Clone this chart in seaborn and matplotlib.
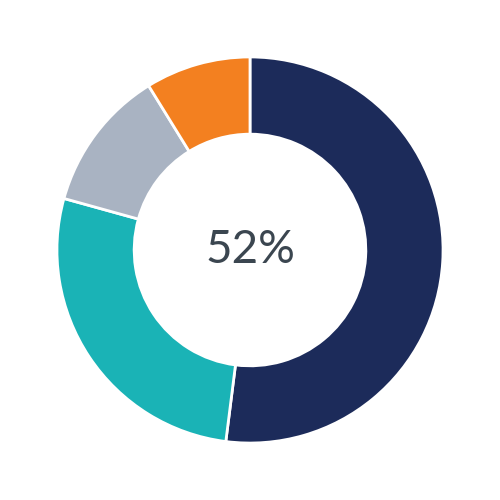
#!/usr/bin/env python3
# coding: utf-8

import seaborn as sns
import matplotlib
from matplotlib import pyplot as plt

# data
labels = ["Navy", "Teal", "Gray", "Orange"]
shares = [52.0, 27.3, 11.9, 8.8]
colors = ["#1c2b5a", "#1ab3b6", "#a9b3c2", "#f38020"]
center_text = "52%"

sns.set_style("white")
sns.set_palette(sns.color_palette(colors))
matplotlib.rcParams['font.family'] = ['Lato', 'DejaVu Sans']

fig = plt.figure(figsize=[5.0, 5.0], dpi=100)
ax = fig.add_axes([0, 0, 1, 1])
ax.pie(shares, labels=None, colors=sns.color_palette(colors),
       startangle=90, counterclock=False, radius=1.0,
       wedgeprops=dict(width=0.4, edgecolor="white", linewidth=2))
ax.text(0, 0.0, center_text, ha="center", va="center",
        fontsize=33, color="#3b4650")
ax.set_xlim(-1.295, 1.295)
ax.set_ylim(-1.295, 1.295)
ax.set_aspect("equal")
ax.axis("off")

plt.savefig("out.png", dpi=100, facecolor="white")
